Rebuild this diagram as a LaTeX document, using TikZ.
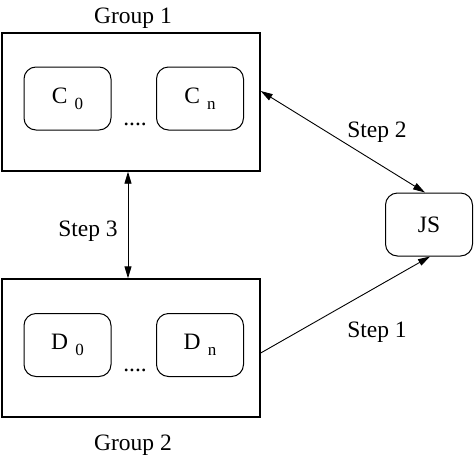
\documentclass[tikz,border=0pt]{standalone}
\usepackage{fontspec}
\setmainfont{Liberation Serif}
\newfontfamily\tnr{Liberation Serif}
\usetikzlibrary{arrows.meta}
\newcommand{\subx}[1]{\hspace{0.3em}\raisebox{-0.25em}{\fontsize{17}{18}\selectfont #1}}
\begin{document}
\begin{tikzpicture}[x=1pt,y=-1pt,
  every node/.style={font=\tnr\fontsize{23.5}{28}\selectfont, inner sep=0pt},
  groupbox/.style={draw, line width=1.4pt, minimum width=258pt, minimum height=138pt},
  membox/.style={draw, line width=1pt, rounded corners=12pt, minimum width=87pt, minimum height=63pt},
  conn/.style={line width=0.9pt, -{Triangle[length=12pt,width=7pt]}},
  biconn/.style={line width=0.9pt, {Triangle[length=12pt,width=7pt]}-{Triangle[length=12pt,width=7pt]}},
  lab/.style={anchor=base}]
\useasboundingbox (0,0) rectangle (474,461);
\node[groupbox] (g1) at (131,102) {};
\node[groupbox] (g2) at (131,348) {};
\node[membox] (c0) at (67.5,98.5) {C\subx{0}};
\node[membox] (cn) at (200,98.5) {C\subx{n}};
\node[membox] (d0) at (67.5,345) {D\subx{0}};
\node[membox] (dn) at (200,345) {D\subx{n}};
\node[membox] (js) at (429,224.5) {JS};
\node[lab] (dots1) at (135,125) {....};
\node[lab] (dots2) at (135,371) {....};
\node[lab] (t1) at (133,23) {Group 1};
\node[lab] (t2) at (133,450) {Group 2};
\node[lab] (s3) at (88,236) {Step 3};
\node[lab] (s2) at (377,137) {Step 2};
\node[lab] (s1) at (377,337) {Step 1};
\draw[biconn] ([xshift=-3pt]g1.south) -- ([xshift=-3pt]g2.north);
\draw[biconn] ([yshift=11pt]g1.east) -- ([xshift=-4pt]js.north);
\draw[conn] ([yshift=-5pt]g2.east) -- ([xshift=1pt]js.south);
\end{tikzpicture}
\end{document}
